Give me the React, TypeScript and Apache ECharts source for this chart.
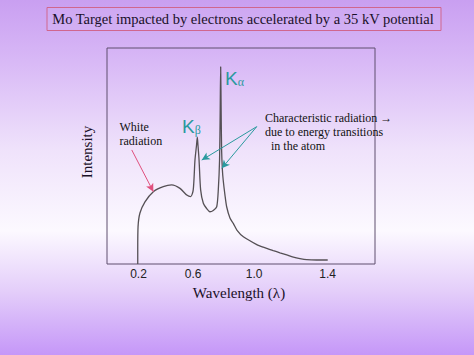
import React, { useEffect, useRef } from "react";
import * as echarts from "echarts";

// Wavelength (axis units) and intensity (arbitrary units 0-100)
const wavelength = [0.195, 0.195, 0.197, 0.209, 0.241, 0.294, 0.357, 0.41, 0.463, 0.506, 0.531, 0.547, 0.558, 0.568, 0.573, 0.577, 0.584, 0.594, 0.611, 0.632, 0.653, 0.674, 0.696, 0.706, 0.714, 0.718, 0.721, 0.724, 0.727, 0.732, 0.737, 0.749, 0.759, 0.78, 0.801, 0.825, 0.865, 0.95, 0.991, 1.055, 1.097, 1.14, 1.182, 1.224, 1.267, 1.33, 1.4];
const intensity = [0, 6.5, 17.3, 23.6, 28.8, 33.5, 35.8, 36.6, 35.0, 31.9, 31.2, 34.3, 48.1, 55.1, 58.7, 55.1, 48.1, 34.3, 28.1, 25.7, 24.2, 24.8, 26.5, 34.3, 48.1, 71.3, 91.3, 71.3, 52.8, 43.5, 38.9, 31.5, 26.5, 21.3, 18.8, 15.6, 12.6, 9.0, 7.8, 6.2, 5.2, 4.2, 3.2, 2.5, 2.0, 1.85, 1.85];

// Tick labels and where they sit along the axis
const tickLabels = ["0.2", "0.6", "1.0", "1.4"];
const tickPositions = [0.2, 0.546, 0.933, 1.4];

// Annotation arrows (data units): [start, end]
const whiteArrow = [[0.157, 52.8], [0.294, 33.5]];
const kBetaArrow = [[0.95, 63.6], [0.601, 48.1]];
const kAlphaArrow = [[0.95, 63.6], [0.728, 44.3]];

const title = "Mo Target impacted by electrons accelerated by a 35 kV potential";

export default function App() {
  const ref = useRef<HTMLDivElement>(null);
  useEffect(() => {
    document.body.style.margin = "0";
    const chart = echarts.init(ref.current!, null, { renderer: "svg" });
    const serif = "Liberation Serif";
    const teal = "#2a9a9e";
    const pink = "#e0507e";
    const arrowLine = (pts: number[][], color: string) => [
      { coord: pts[0], lineStyle: { color, width: 1, type: "solid" } },
      { coord: pts[1] },
    ];
    chart.setOption({
      animation: false,
      backgroundColor: new echarts.graphic.LinearGradient(0, 0, 0, 1, [
        { offset: 0, color: "#c99ff1" },
        { offset: 0.17, color: "#d8b8f6" },
        { offset: 0.42, color: "#efe2fb" },
        { offset: 0.65, color: "#fcf9ff" },
        { offset: 0.82, color: "#e4cefa" },
        { offset: 1, color: "#c597f8" },
      ]),
      grid: {
        left: 107,
        top: 48,
        width: 268,
        height: 216,
        show: true,
        borderColor: "#5e4e6e",
        borderWidth: 1,
        backgroundColor: "transparent",
      },
      xAxis: {
        type: "value",
        min: 0,
        max: 1.7,
        axisLine: { show: false },
        axisTick: { show: false },
        splitLine: { show: false },
        axisLabel: {
          customValues: tickPositions,
          formatter: (v: number) => {
            const i = tickPositions.findIndex((p) => Math.abs(p - v) < 1e-6);
            return i >= 0 ? tickLabels[i] : "";
          },
          margin: 4,
          fontSize: 12,
          fontFamily: "Liberation Sans",
          color: "#222",
        },
      },
      yAxis: {
        type: "value",
        min: 0,
        max: 100,
        axisLine: { show: false },
        axisTick: { show: false },
        splitLine: { show: false },
        axisLabel: { show: false },
      },
      series: [
        {
          type: "line",
          data: wavelength.map((x, i) => [x, intensity[i]]),
          showSymbol: false,
          smooth: 0.25,
          lineStyle: { color: "#555055", width: 1.3 },
          markLine: {
            silent: true,
            symbol: ["none", "arrow"],
            symbolSize: [6, 8],
            label: { show: false },
            lineStyle: { type: "solid" },
            data: [
              arrowLine(whiteArrow, pink),
              arrowLine(kBetaArrow, teal),
              arrowLine(kAlphaArrow, teal),
            ],
          },
        },
      ],
      graphic: [
        {
          type: "rect",
          shape: { x: 47, y: 7.5, width: 394, height: 23 },
          style: { fill: "rgba(255,255,255,0.06)", stroke: "#d0668e", lineWidth: 1 },
        },
        {
          type: "text",
          x: 243,
          y: 19,
          style: {
            text: title,
            font: `14.5px "${serif}"`,
            fill: "#1a1028",
            align: "center",
            verticalAlign: "middle",
          },
        },
        {
          type: "text",
          x: 87,
          y: 152,
          rotation: Math.PI / 2,
          style: {
            text: "Intensity",
            font: `15px "${serif}"`,
            fill: "#1a1028",
            align: "center",
            verticalAlign: "middle",
          },
        },
        {
          type: "text",
          x: 239,
          y: 293,
          style: {
            text: "Wavelength (λ)",
            font: `15px "${serif}"`,
            fill: "#1a1028",
            align: "center",
            verticalAlign: "middle",
          },
        },
        {
          type: "text",
          x: 119.5,
          y: 120,
          style: {
            text: "White\nradiation",
            font: `12px "${serif}"`,
            lineHeight: 14,
            fill: "#111",
            align: "left",
            verticalAlign: "top",
          },
        },
        {
          type: "text",
          x: 265,
          y: 110.5,
          style: {
            text: "Characteristic radiation →\ndue to energy transitions\n  in the atom",
            font: `12px "${serif}"`,
            lineHeight: 14,
            fill: "#111",
            align: "left",
            verticalAlign: "top",
          },
        },
        {
          type: "text",
          x: 182,
          y: 116,
          style: {
            text: "{k|K}{s|β}",
            rich: {
              k: { fontSize: 19, fontFamily: "Liberation Sans", fill: teal },
              s: { fontSize: 12, fontFamily: serif, fill: teal, verticalAlign: "bottom", padding: [8, 0, 0, 0] },
            },
          },
        },
        {
          type: "text",
          x: 225,
          y: 68,
          style: {
            text: "{k|K}{s|α}",
            rich: {
              k: { fontSize: 19, fontFamily: "Liberation Sans", fill: teal },
              s: { fontSize: 12, fontFamily: serif, fill: teal, verticalAlign: "bottom", padding: [8, 0, 0, 0] },
            },
          },
        },
      ],
    });
    return () => chart.dispose();
  }, []);
  return <div ref={ref} style={{ width: 474, height: 355 }} />;
}
